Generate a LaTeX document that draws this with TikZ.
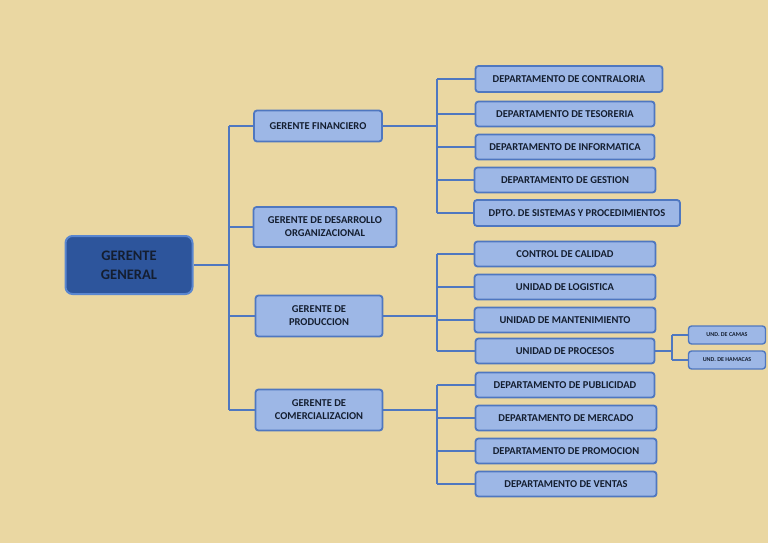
\documentclass[tikz,border=0pt]{standalone}
\usepackage{fontspec}
\setmainfont{Carlito}
\definecolor{bg}{HTML}{EAD7A2}
\definecolor{boxfill}{HTML}{9DB7E6}
\definecolor{boxline}{HTML}{4F77C0}
\definecolor{ggfill}{HTML}{2D559C}
\definecolor{ggline}{HTML}{5A86CF}
\definecolor{txt}{HTML}{141E30}
\tikzset{
  box/.style={draw=boxline, line width=1.8pt, fill=boxfill, rounded corners=3pt, align=center, text=txt, font=\bfseries\fontsize{10.5}{13}\selectfont, inner sep=0pt},
  small/.style={box, font=\bfseries\fontsize{6}{7}\selectfont, line width=1.4pt},
  gg/.style={draw=ggline, line width=2pt, fill=ggfill, rounded corners=7pt, align=center, text=txt, font=\bfseries\fontsize{14.5}{19}\selectfont, inner sep=0pt, minimum width=127pt, minimum height=58pt},
  link/.style={draw=boxline, line width=1.8pt}
}
\begin{document}
\begin{tikzpicture}[x=1pt,y=-1pt]
\fill[bg] (0,0) rectangle (768,543);
\useasboundingbox (0,0) rectangle (768,543);
% nodes
\node[gg] (gg) at (129,265) {GERENTE\\GENERAL};
\node[box, minimum width=128pt, minimum height=31pt] (fin) at (318,126) {GERENTE FINANCIERO};
\node[box, minimum width=143pt, minimum height=40pt] (des) at (325,227) {GERENTE DE DESARROLLO\\ORGANIZACIONAL};
\node[box, minimum width=127pt, minimum height=41pt] (pro) at (319,316) {GERENTE DE\\PRODUCCION};
\node[box, minimum width=127pt, minimum height=41pt] (com) at (319,410) {GERENTE DE\\COMERCIALIZACION};
\node[box, minimum width=187pt, minimum height=26pt] (d1) at (569,79) {DEPARTAMENTO DE CONTRALORIA};
\node[box, minimum width=179pt, minimum height=25pt] (d2) at (565,114) {DEPARTAMENTO DE TESORERIA};
\node[box, minimum width=179pt, minimum height=25pt] (d3) at (565,147) {DEPARTAMENTO DE INFORMATICA};
\node[box, minimum width=181pt, minimum height=25pt] (d4) at (565,180) {DEPARTAMENTO DE GESTION};
\node[box, minimum width=206pt, minimum height=26pt] (d5) at (577,213) {DPTO. DE SISTEMAS Y PROCEDIMIENTOS};
\node[box, minimum width=181pt, minimum height=25pt] (p1) at (565,254) {CONTROL DE CALIDAD};
\node[box, minimum width=181pt, minimum height=25pt] (p2) at (565,287) {UNIDAD DE LOGISTICA};
\node[box, minimum width=181pt, minimum height=25pt] (p3) at (565,320) {UNIDAD DE MANTENIMIENTO};
\node[box, minimum width=179pt, minimum height=25pt] (p4) at (565,351) {UNIDAD DE PROCESOS};
\node[small, minimum width=77pt, minimum height=18pt] (u1) at (727,335) {UND. DE CAMAS};
\node[small, minimum width=77pt, minimum height=18pt] (u2) at (727,360) {UND. DE HAMACAS};
\node[box, minimum width=179pt, minimum height=25pt] (c1) at (565,385) {DEPARTAMENTO DE PUBLICIDAD};
\node[box, minimum width=181pt, minimum height=25pt] (c2) at (566,418) {DEPARTAMENTO DE MERCADO};
\node[box, minimum width=181pt, minimum height=25pt] (c3) at (566,451) {DEPARTAMENTO DE PROMOCION};
\node[box, minimum width=181pt, minimum height=25pt] (c4) at (566,484) {DEPARTAMENTO DE VENTAS};
% coordinates
\coordinate (t) at (229,265);
\coordinate (ft) at (437,126);
\coordinate (pt) at (437,316);
\coordinate (ct) at (437,410);
\coordinate (ut) at (672,351);
\draw[link] (gg.east) -- (t);
\draw[link] (t |- fin) -- (t |- com);
\foreach \m in {fin,des,pro,com} \draw[link] (t |- \m) -- (\m.west);
\draw[link] (fin.east) -- (ft);
\draw[link] (ft |- d1) -- (ft |- d5);
\foreach \m in {d1,d2,d3,d4,d5} \draw[link] (ft |- \m) -- (\m.west);
\draw[link] (pro.east) -- (pt);
\draw[link] (pt |- p1) -- (pt |- p4);
\foreach \m in {p1,p2,p3,p4} \draw[link] (pt |- \m) -- (\m.west);
\draw[link] (com.east) -- (ct);
\draw[link] (ct |- c1) -- (ct |- c4);
\foreach \m in {c1,c2,c3,c4} \draw[link] (ct |- \m) -- (\m.west);
\draw[link] (p4.east) -- (ut);
\draw[link] (ut |- u1) -- (ut |- u2);
\foreach \m in {u1,u2} \draw[link] (ut |- \m) -- (\m.west);
\end{tikzpicture}
\end{document}
